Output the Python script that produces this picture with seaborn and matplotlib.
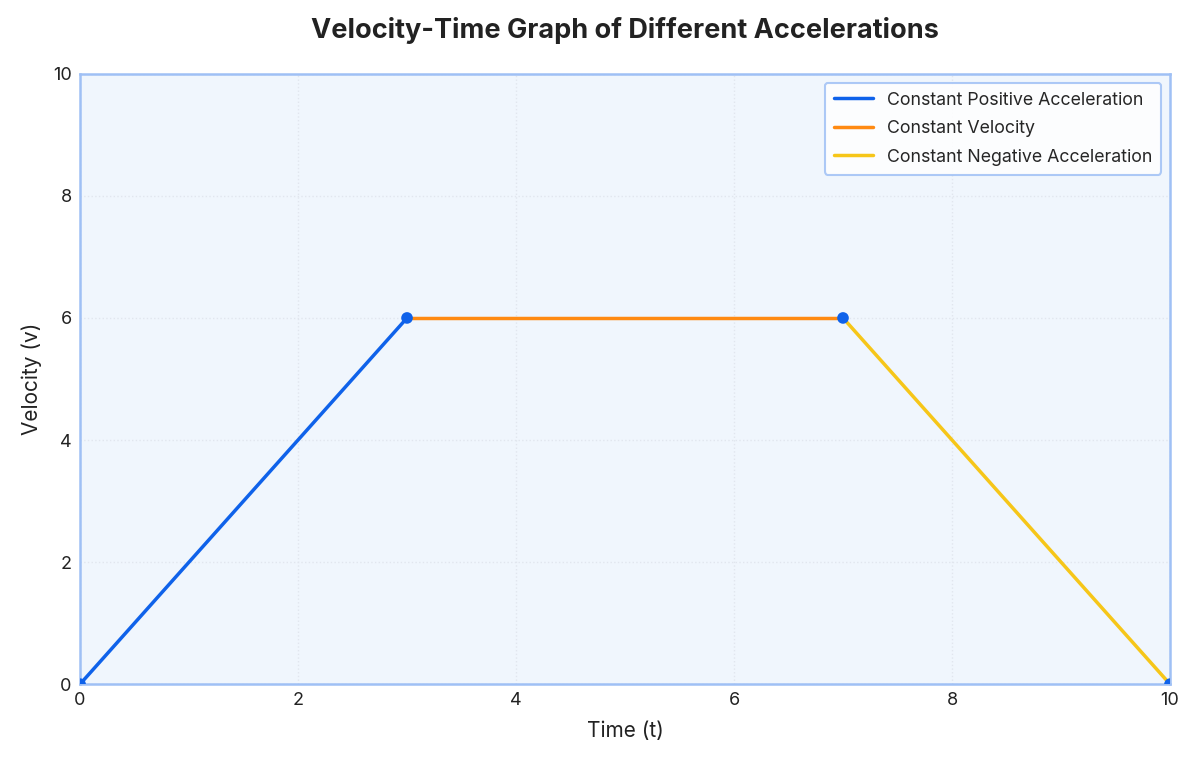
import numpy as np
import pandas as pd
import matplotlib
matplotlib.use("Agg")
import matplotlib.pyplot as plt
import seaborn as sns

# data
seg_names = ["Constant Positive Acceleration", "Constant Velocity", "Constant Negative Acceleration"]
seg_time = [[0, 3], [3, 7], [7, 10]]
seg_vel = [[0, 6], [6, 6], [6, 0]]
point_time = [0, 3, 7, 10]
point_vel = [0, 6, 6, 0]
seg_colors = ["#0f62ea", "#ff8a12", "#f6c619"]

sns.set_theme(style="white")
plt.rcParams["font.family"] = ["Inter", "DejaVu Sans"]

rows = []
for name, t, v in zip(seg_names, seg_time, seg_vel):
    for ti, vi in zip(t, v):
        rows.append({"Time": ti, "Velocity": vi, "Segment": name})
df = pd.DataFrame(rows)

fig, ax = plt.subplots(figsize=(12, 7.61), dpi=100)
fig.subplots_adjust(left=0.0667, right=0.975, top=0.903, bottom=0.101)
ax.set_facecolor("#f0f6fd")

sns.lineplot(data=df, x="Time", y="Velocity", hue="Segment", hue_order=seg_names,
             palette=seg_colors, linewidth=2.5, ax=ax, zorder=3, sort=False)
sns.scatterplot(x=point_time, y=point_vel, color=seg_colors[0], s=70, ax=ax,
                zorder=4, edgecolor="none", legend=False)

ax.set_xlim(0, 10)
ax.set_ylim(0, 10)
ax.set_xticks([0, 2, 4, 6, 8, 10])
ax.set_yticks([0, 2, 4, 6, 8, 10])
ax.grid(True, linestyle=":", color="#e1e6ee", linewidth=1)
ax.tick_params(axis="both", length=0, labelsize=13, colors="#222222", pad=6)
for sp in ax.spines.values():
    sp.set_color("#9fc0f5")
    sp.set_linewidth(1.8)

ax.set_xlabel("Time (t)", fontsize=15, color="#222222", labelpad=8)
ax.set_ylabel("Velocity (v)", fontsize=15, color="#222222", labelpad=8)
ax.set_title("Velocity-Time Graph of Different Accelerations", fontsize=19.5,
             fontweight="bold", color="#222222", pad=26)

leg = ax.legend(loc="upper right", fontsize=12.8, frameon=True, fancybox=True,
                borderpad=0.5, handlelength=2.2, labelspacing=0.65)
leg.get_frame().set_edgecolor("#9fc0f5")
leg.get_frame().set_linewidth(1.5)
leg.get_frame().set_facecolor("white")
leg.get_frame().set_alpha(0.85)

plt.savefig("out.png", dpi=100)
